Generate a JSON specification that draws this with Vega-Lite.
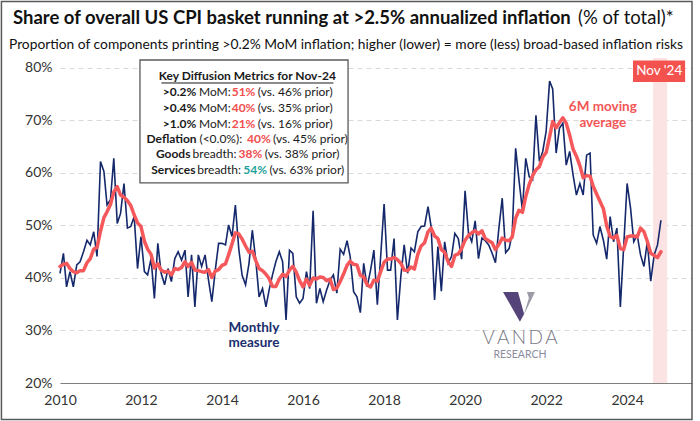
{
  "$schema": "https://vega.github.io/schema/vega-lite/v6.json",
  "description": "Share of overall US CPI basket running at >2.5% annualized inflation, monthly with 6M moving average",
  "width": 632,
  "height": 325,
  "autosize": {"type": "none"},
  "padding": {"left": 60, "top": 58, "right": 8, "bottom": 38},
  "background": "white",
  "config": {"view": {"stroke": null}, "font": "Lato"},
  "resolve": {"axis": {"x": "independent", "y": "independent"}},
  "datasets": {
    "cpi": [
      {"d": "2010-01-01", "m": 40.9, "ma": 42.2}, {"d": "2010-02-01", "m": 44.7, "ma": 42.6},
      {"d": "2010-03-01", "m": 38.3, "ma": 42.8}, {"d": "2010-04-01", "m": 41.2, "ma": 41.8},
      {"d": "2010-05-01", "m": 38.3, "ma": 41.2}, {"d": "2010-06-01", "m": 42.5, "ma": 41.0},
      {"d": "2010-07-01", "m": 43.1, "ma": 41.4}, {"d": "2010-08-01", "m": 45.0, "ma": 41.4},
      {"d": "2010-09-01", "m": 47.2, "ma": 42.9}, {"d": "2010-10-01", "m": 46.3, "ma": 43.7},
      {"d": "2010-11-01", "m": 48.8, "ma": 45.5}, {"d": "2010-12-01", "m": 44.1, "ma": 45.8},
      {"d": "2011-01-01", "m": 62.2, "ma": 48.9}, {"d": "2011-02-01", "m": 60.3, "ma": 51.5},
      {"d": "2011-03-01", "m": 53.9, "ma": 52.6}, {"d": "2011-04-01", "m": 54.9, "ma": 54.0},
      {"d": "2011-05-01", "m": 62.8, "ma": 56.4}, {"d": "2011-06-01", "m": 50.4, "ma": 57.4},
      {"d": "2011-07-01", "m": 52.3, "ma": 55.8}, {"d": "2011-08-01", "m": 58.0, "ma": 55.4},
      {"d": "2011-09-01", "m": 49.5, "ma": 54.7}, {"d": "2011-10-01", "m": 49.8, "ma": 53.8},
      {"d": "2011-11-01", "m": 51.7, "ma": 52.0}, {"d": "2011-12-01", "m": 41.8, "ma": 50.5},
      {"d": "2012-01-01", "m": 47.9, "ma": 49.8}, {"d": "2012-02-01", "m": 41.2, "ma": 47.0},
      {"d": "2012-03-01", "m": 40.6, "ma": 45.5}, {"d": "2012-04-01", "m": 43.7, "ma": 44.5},
      {"d": "2012-05-01", "m": 36.1, "ma": 41.9}, {"d": "2012-06-01", "m": 46.6, "ma": 42.7},
      {"d": "2012-07-01", "m": 40.9, "ma": 41.5}, {"d": "2012-08-01", "m": 38.7, "ma": 41.1},
      {"d": "2012-09-01", "m": 41.8, "ma": 41.3}, {"d": "2012-10-01", "m": 39.3, "ma": 40.6},
      {"d": "2012-11-01", "m": 43.7, "ma": 41.8}, {"d": "2012-12-01", "m": 45.0, "ma": 41.6},
      {"d": "2013-01-01", "m": 43.4, "ma": 42.0}, {"d": "2013-02-01", "m": 45.3, "ma": 43.1},
      {"d": "2013-03-01", "m": 36.4, "ma": 42.2}, {"d": "2013-04-01", "m": 44.4, "ma": 43.0},
      {"d": "2013-05-01", "m": 34.5, "ma": 41.5}, {"d": "2013-06-01", "m": 44.4, "ma": 41.4},
      {"d": "2013-07-01", "m": 42.2, "ma": 41.2}, {"d": "2013-08-01", "m": 44.4, "ma": 41.1},
      {"d": "2013-09-01", "m": 39.6, "ma": 41.6}, {"d": "2013-10-01", "m": 35.5, "ma": 40.1},
      {"d": "2013-11-01", "m": 41.5, "ma": 41.3}, {"d": "2013-12-01", "m": 46.6, "ma": 41.6},
      {"d": "2014-01-01", "m": 46.6, "ma": 42.4}, {"d": "2014-02-01", "m": 46.3, "ma": 42.7},
      {"d": "2014-03-01", "m": 50.1, "ma": 44.4}, {"d": "2014-04-01", "m": 47.9, "ma": 46.5},
      {"d": "2014-05-01", "m": 53.9, "ma": 48.6}, {"d": "2014-06-01", "m": 45.5, "ma": 48.4},
      {"d": "2014-07-01", "m": 40.5, "ma": 47.4}, {"d": "2014-08-01", "m": 38.7, "ma": 46.1},
      {"d": "2014-09-01", "m": 42.8, "ma": 44.9}, {"d": "2014-10-01", "m": 49.1, "ma": 45.1},
      {"d": "2014-11-01", "m": 43.4, "ma": 43.3}, {"d": "2014-12-01", "m": 36.4, "ma": 41.8},
      {"d": "2015-01-01", "m": 38.0, "ma": 41.4}, {"d": "2015-02-01", "m": 34.5, "ma": 40.7},
      {"d": "2015-03-01", "m": 37.7, "ma": 39.9}, {"d": "2015-04-01", "m": 40.6, "ma": 38.4},
      {"d": "2015-05-01", "m": 43.1, "ma": 38.4}, {"d": "2015-06-01", "m": 45.0, "ma": 39.8},
      {"d": "2015-07-01", "m": 43.1, "ma": 40.7}, {"d": "2015-08-01", "m": 32.0, "ma": 40.3},
      {"d": "2015-09-01", "m": 45.3, "ma": 41.5}, {"d": "2015-10-01", "m": 44.7, "ma": 42.2},
      {"d": "2015-11-01", "m": 36.4, "ma": 41.1}, {"d": "2015-12-01", "m": 35.2, "ma": 39.5},
      {"d": "2016-01-01", "m": 36.1, "ma": 38.3}, {"d": "2016-02-01", "m": 41.2, "ma": 39.8},
      {"d": "2016-03-01", "m": 38.0, "ma": 38.6}, {"d": "2016-04-01", "m": 52.8, "ma": 40.0},
      {"d": "2016-05-01", "m": 35.2, "ma": 39.8}, {"d": "2016-06-01", "m": 38.0, "ma": 40.2},
      {"d": "2016-07-01", "m": 35.5, "ma": 40.1}, {"d": "2016-08-01", "m": 37.7, "ma": 39.5},
      {"d": "2016-09-01", "m": 39.6, "ma": 39.8}, {"d": "2016-10-01", "m": 40.6, "ma": 37.8},
      {"d": "2016-11-01", "m": 37.1, "ma": 38.1}, {"d": "2016-12-01", "m": 45.5, "ma": 39.3},
      {"d": "2017-01-01", "m": 44.5, "ma": 40.8}, {"d": "2017-02-01", "m": 47.1, "ma": 42.4},
      {"d": "2017-03-01", "m": 44.1, "ma": 43.2}, {"d": "2017-04-01", "m": 37.4, "ma": 42.6},
      {"d": "2017-05-01", "m": 36.4, "ma": 42.5}, {"d": "2017-06-01", "m": 33.4, "ma": 40.5},
      {"d": "2017-07-01", "m": 42.8, "ma": 40.2}, {"d": "2017-08-01", "m": 38.3, "ma": 38.7},
      {"d": "2017-09-01", "m": 41.5, "ma": 38.3}, {"d": "2017-10-01", "m": 45.3, "ma": 39.6},
      {"d": "2017-11-01", "m": 34.9, "ma": 39.4}, {"d": "2017-12-01", "m": 44.1, "ma": 41.2},
      {"d": "2018-01-01", "m": 54.1, "ma": 43.0}, {"d": "2018-02-01", "m": 41.5, "ma": 43.6},
      {"d": "2018-03-01", "m": 41.5, "ma": 43.6}, {"d": "2018-04-01", "m": 47.5, "ma": 43.9},
      {"d": "2018-05-01", "m": 32.0, "ma": 43.5}, {"d": "2018-06-01", "m": 40.3, "ma": 42.8},
      {"d": "2018-07-01", "m": 46.3, "ma": 41.5}, {"d": "2018-08-01", "m": 40.9, "ma": 41.4},
      {"d": "2018-09-01", "m": 45.7, "ma": 42.1}, {"d": "2018-10-01", "m": 45.0, "ma": 41.7},
      {"d": "2018-11-01", "m": 48.8, "ma": 44.5}, {"d": "2018-12-01", "m": 49.8, "ma": 46.1},
      {"d": "2019-01-01", "m": 49.9, "ma": 46.7}, {"d": "2019-02-01", "m": 53.6, "ma": 48.8},
      {"d": "2019-03-01", "m": 49.8, "ma": 49.5}, {"d": "2019-04-01", "m": 35.8, "ma": 48.0},
      {"d": "2019-05-01", "m": 46.0, "ma": 47.5}, {"d": "2019-06-01", "m": 37.5, "ma": 45.4},
      {"d": "2019-07-01", "m": 46.9, "ma": 44.9}, {"d": "2019-08-01", "m": 42.8, "ma": 43.1},
      {"d": "2019-09-01", "m": 44.1, "ma": 42.2}, {"d": "2019-10-01", "m": 48.5, "ma": 44.3},
      {"d": "2019-11-01", "m": 47.5, "ma": 44.6}, {"d": "2019-12-01", "m": 43.6, "ma": 45.6},
      {"d": "2020-01-01", "m": 56.6, "ma": 47.2}, {"d": "2020-02-01", "m": 48.5, "ma": 48.1},
      {"d": "2020-03-01", "m": 46.9, "ma": 48.6}, {"d": "2020-04-01", "m": 50.9, "ma": 49.0},
      {"d": "2020-05-01", "m": 43.7, "ma": 48.4}, {"d": "2020-06-01", "m": 47.6, "ma": 49.0},
      {"d": "2020-07-01", "m": 47.1, "ma": 47.5}, {"d": "2020-08-01", "m": 46.3, "ma": 47.1},
      {"d": "2020-09-01", "m": 44.7, "ma": 46.7}, {"d": "2020-10-01", "m": 42.9, "ma": 45.4},
      {"d": "2020-11-01", "m": 49.5, "ma": 46.4}, {"d": "2020-12-01", "m": 55.2, "ma": 47.6},
      {"d": "2021-01-01", "m": 44.8, "ma": 47.2}, {"d": "2021-02-01", "m": 45.6, "ma": 47.1},
      {"d": "2021-03-01", "m": 48.5, "ma": 47.8}, {"d": "2021-04-01", "m": 64.7, "ma": 51.4},
      {"d": "2021-05-01", "m": 58.7, "ma": 52.9}, {"d": "2021-06-01", "m": 52.9, "ma": 52.5},
      {"d": "2021-07-01", "m": 62.8, "ma": 55.5}, {"d": "2021-08-01", "m": 59.3, "ma": 57.8},
      {"d": "2021-09-01", "m": 58.7, "ma": 59.5}, {"d": "2021-10-01", "m": 71.0, "ma": 60.6},
      {"d": "2021-11-01", "m": 62.2, "ma": 61.2}, {"d": "2021-12-01", "m": 64.1, "ma": 63.0},
      {"d": "2022-01-01", "m": 67.9, "ma": 63.9}, {"d": "2022-02-01", "m": 77.5, "ma": 66.9},
      {"d": "2022-03-01", "m": 76.0, "ma": 69.8}, {"d": "2022-04-01", "m": 63.8, "ma": 68.6},
      {"d": "2022-05-01", "m": 68.5, "ma": 69.6}, {"d": "2022-06-01", "m": 69.5, "ma": 70.5},
      {"d": "2022-07-01", "m": 61.5, "ma": 69.5}, {"d": "2022-08-01", "m": 64.1, "ma": 67.2},
      {"d": "2022-09-01", "m": 59.6, "ma": 64.5}, {"d": "2022-10-01", "m": 55.8, "ma": 63.2},
      {"d": "2022-11-01", "m": 58.0, "ma": 61.4}, {"d": "2022-12-01", "m": 55.8, "ma": 59.1},
      {"d": "2023-01-01", "m": 63.4, "ma": 59.5}, {"d": "2023-02-01", "m": 63.8, "ma": 59.4},
      {"d": "2023-03-01", "m": 48.2, "ma": 57.5}, {"d": "2023-04-01", "m": 46.6, "ma": 56.0},
      {"d": "2023-05-01", "m": 49.8, "ma": 54.6}, {"d": "2023-06-01", "m": 47.2, "ma": 53.2},
      {"d": "2023-07-01", "m": 43.6, "ma": 49.9}, {"d": "2023-08-01", "m": 51.7, "ma": 47.9},
      {"d": "2023-09-01", "m": 46.9, "ma": 47.6}, {"d": "2023-10-01", "m": 49.5, "ma": 48.1},
      {"d": "2023-11-01", "m": 34.5, "ma": 45.6}, {"d": "2023-12-01", "m": 46.0, "ma": 45.4},
      {"d": "2024-01-01", "m": 58.0, "ma": 47.8}, {"d": "2024-02-01", "m": 53.3, "ma": 48.0},
      {"d": "2024-03-01", "m": 46.9, "ma": 48.0}, {"d": "2024-04-01", "m": 48.2, "ma": 47.8},
      {"d": "2024-05-01", "m": 44.4, "ma": 49.5}, {"d": "2024-06-01", "m": 42.2, "ma": 48.8},
      {"d": "2024-07-01", "m": 46.9, "ma": 47.0}, {"d": "2024-08-01", "m": 39.4, "ma": 44.7},
      {"d": "2024-09-01", "m": 44.4, "ma": 44.3}, {"d": "2024-10-01", "m": 46.3, "ma": 43.9},
      {"d": "2024-11-01", "m": 51.0, "ma": 45.0}
    ]
  },
  "layer": [
    {
      "data": {"values": [{"d": "2024-08-22", "d2": "2024-12-27"}]},
      "mark": {"type": "rect", "color": "#fce3e3"},
      "encoding": {
        "x": {"field": "d", "type": "temporal", "axis": null},
        "x2": {"field": "d2"}
      }
    },
    {
      "data": {"name": "cpi"},
      "mark": {"type": "line", "color": "#14286b", "strokeWidth": 1.6},
      "encoding": {
        "x": {
          "field": "d",
          "type": "temporal",
          "title": null,
          "scale": {"domain": ["2010-01-01", "2025-08-08"], "nice": false},
          "axis": {
            "tickCount": {"interval": "year", "step": 2},
            "format": "%Y",
            "grid": false,
            "ticks": false,
            "domainColor": "#7f7f7f",
            "labelFont": "Lato",
            "labelFontSize": 14,
            "labelColor": "#333333",
            "labelPadding": 10,
            "labelFlush": false,
            "labelOverlap": false
          }
        },
        "y": {
          "field": "m",
          "type": "quantitative",
          "title": null,
          "scale": {"domain": [20, 81.9], "nice": false, "zero": false},
          "axis": {
            "values": [20, 30, 40, 50, 60, 70, 80],
            "labelExpr": "datum.value + '%'",
            "grid": true,
            "gridDash": [5, 4],
            "gridColor": "#d9d9d9",
            "domain": false,
            "ticks": false,
            "labelFont": "Lato",
            "labelFontSize": 14,
            "labelColor": "#333333",
            "labelPadding": 8
          }
        }
      }
    },
    {
      "data": {"name": "cpi"},
      "mark": {"type": "line", "color": "#f4585b", "strokeWidth": 3.5, "strokeJoin": "round", "strokeCap": "round"},
      "encoding": {
        "x": {"field": "d", "type": "temporal", "axis": null},
        "y": {"field": "ma", "type": "quantitative", "axis": null}
      }
    },
    {
      "data": {"values": [{"d": "2011-12-23", "d2": "2017-02-10", "v": 81.52, "v2": 58.1}]},
      "mark": {"type": "rect", "fill": "white", "stroke": "#595959", "strokeWidth": 1.3},
      "encoding": {
        "x": {"field": "d", "type": "temporal", "axis": null},
        "x2": {"field": "d2"},
        "y": {"field": "v", "type": "quantitative", "axis": null},
        "y2": {"field": "v2"}
      }
    },
    {
      "data": {"values": [{"d": "2012-07-03", "d2": "2016-10-01", "v": 77.14}]},
      "mark": {"type": "rule", "color": "#1a1a1a", "strokeWidth": 1},
      "encoding": {
        "x": {"field": "d", "type": "temporal", "axis": null},
        "x2": {"field": "d2"},
        "y": {"field": "v", "type": "quantitative", "axis": null}
      }
    },
    {
      "data": {"values": [{"d": "2014-08-17", "v": 78.53, "t": "Key Diffusion Metrics for Nov-24"}]},
      "mark": {"type": "text", "fontSize": 12, "fontWeight": "bold", "align": "center", "baseline": "middle", "color": "#1a1a1a"},
      "encoding": {
        "x": {"field": "d", "type": "temporal", "axis": null},
        "y": {"field": "v", "type": "quantitative", "axis": null},
        "text": {"field": "t"}
      }
    },
    {
      "data": {"values": [
        {"d": "2012-07-15", "v": 75.49, "t": ">0.2%"},
        {"d": "2012-07-15", "v": 72.44, "t": ">0.4%"},
        {"d": "2012-07-15", "v": 69.33, "t": ">1.0%"},
        {"d": "2012-02-20", "v": 66.48, "t": "Deflation"},
        {"d": "2012-05-15", "v": 63.56, "t": "Goods"},
        {"d": "2012-04-03", "v": 60.57, "t": "Services"}
      ]},
      "mark": {"type": "text", "fontSize": 12, "fontWeight": "bold", "align": "left", "baseline": "middle", "color": "#1a1a1a"},
      "encoding": {
        "x": {"field": "d", "type": "temporal", "axis": null},
        "y": {"field": "v", "type": "quantitative", "axis": null},
        "text": {"field": "t"}
      }
    },
    {
      "data": {"values": [
        {"d": "2013-06-07", "v": 75.49, "t": "MoM:"},
        {"d": "2013-06-07", "v": 72.44, "t": "MoM:"},
        {"d": "2013-06-07", "v": 69.33, "t": "MoM:"},
        {"d": "2013-06-11", "v": 66.48, "t": "(<0.0%):"},
        {"d": "2013-04-10", "v": 63.56, "t": "breadth:"},
        {"d": "2013-05-22", "v": 60.57, "t": "breadth:"}
      ]},
      "mark": {"type": "text", "fontSize": 12, "align": "left", "baseline": "middle", "color": "#1a1a1a"},
      "encoding": {
        "x": {"field": "d", "type": "temporal", "axis": null},
        "y": {"field": "v", "type": "quantitative", "axis": null},
        "text": {"field": "t"}
      }
    },
    {
      "data": {"values": [
        {"d": "2014-03-29", "v": 75.49, "t": "51%"},
        {"d": "2014-03-29", "v": 72.44, "t": "40%"},
        {"d": "2014-03-29", "v": 69.33, "t": "21%"},
        {"d": "2014-08-14", "v": 66.48, "t": "40%"},
        {"d": "2014-05-30", "v": 63.56, "t": "38%"}
      ]},
      "mark": {"type": "text", "fontSize": 12, "fontWeight": "bold", "align": "left", "baseline": "middle", "color": "#f04e4e"},
      "encoding": {
        "x": {"field": "d", "type": "temporal", "axis": null},
        "y": {"field": "v", "type": "quantitative", "axis": null},
        "text": {"field": "t"}
      }
    },
    {
      "data": {"values": [{"d": "2014-07-11", "v": 60.57, "t": "54%"}]},
      "mark": {"type": "text", "fontSize": 12, "fontWeight": "bold", "align": "left", "baseline": "middle", "color": "#1fa39c"},
      "encoding": {
        "x": {"field": "d", "type": "temporal", "axis": null},
        "y": {"field": "v", "type": "quantitative", "axis": null},
        "text": {"field": "t"}
      }
    },
    {
      "data": {"values": [
        {"d": "2014-11-20", "v": 75.49, "t": "(vs. 46% prior)"},
        {"d": "2014-11-20", "v": 72.44, "t": "(vs. 35% prior)"},
        {"d": "2014-11-20", "v": 69.33, "t": "(vs. 16% prior)"},
        {"d": "2015-04-05", "v": 66.48, "t": "(vs. 45% prior)"},
        {"d": "2015-01-21", "v": 63.56, "t": "(vs. 38% prior)"},
        {"d": "2015-03-04", "v": 60.57, "t": "(vs. 63% prior)"}
      ]},
      "mark": {"type": "text", "fontSize": 12, "align": "left", "baseline": "middle", "color": "#1a1a1a"},
      "encoding": {
        "x": {"field": "d", "type": "temporal", "axis": null},
        "y": {"field": "v", "type": "quantitative", "axis": null},
        "text": {"field": "t"}
      }
    },
    {
      "data": {"values": [{"d": "2024-02-23", "d2": "2025-06-07", "v": 81.43, "v2": 77.33}]},
      "mark": {"type": "rect", "fill": "#f3524f"},
      "encoding": {
        "x": {"field": "d", "type": "temporal", "axis": null},
        "x2": {"field": "d2"},
        "y": {"field": "v", "type": "quantitative", "axis": null},
        "y2": {"field": "v2"}
      }
    },
    {
      "data": {"values": [{"d": "2024-10-16", "v": 79.33, "t": "Nov '24"}]},
      "mark": {"type": "text", "fontSize": 13.5, "align": "center", "baseline": "middle", "color": "white"},
      "encoding": {
        "x": {"field": "d", "type": "temporal", "axis": null},
        "y": {"field": "v", "type": "quantitative", "axis": null},
        "text": {"field": "t"}
      }
    },
    {
      "data": {"values": [
        {"d": "2023-05-27", "v": 72.63, "t": "6M moving"},
        {"d": "2023-05-27", "v": 69.58, "t": "average"}
      ]},
      "mark": {"type": "text", "fontSize": 13.5, "fontWeight": "bold", "align": "center", "baseline": "middle", "color": "#f25656"},
      "encoding": {
        "x": {"field": "d", "type": "temporal", "axis": null},
        "y": {"field": "v", "type": "quantitative", "axis": null},
        "text": {"field": "t"}
      }
    },
    {
      "data": {"values": [
        {"d": "2014-10-15", "v": 30.53, "t": "Monthly"},
        {"d": "2014-10-15", "v": 27.56, "t": "measure"}
      ]},
      "mark": {"type": "text", "fontSize": 13.5, "fontWeight": "bold", "align": "center", "baseline": "middle", "color": "#1a2f6e"},
      "encoding": {
        "x": {"field": "d", "type": "temporal", "axis": null},
        "y": {"field": "v", "type": "quantitative", "axis": null},
        "text": {"field": "t"}
      }
    },
    {
      "data": {"values": [{"d": "2021-05-01", "v": 34.53}]},
      "mark": {"type": "point", "filled": true, "opacity": 1, "size": 1024, "color": "#55447a", "shape": "M-1,-0.92L-0.06,-0.92L0.32,0.45L0.06,0.94Z"},
      "encoding": {
        "x": {"field": "d", "type": "temporal", "axis": null},
        "y": {"field": "v", "type": "quantitative", "axis": null}
      }
    },
    {
      "data": {"values": [{"d": "2021-05-01", "v": 34.53}]},
      "mark": {"type": "point", "filled": true, "opacity": 1, "size": 1024, "color": "#9b9ba6", "shape": "M0.5,-0.92L1,-0.92L0.1,0.94L0.32,0.45L0.62,-0.55Z"},
      "encoding": {
        "x": {"field": "d", "type": "temporal", "axis": null},
        "y": {"field": "v", "type": "quantitative", "axis": null}
      }
    },
    {
      "data": {"values": [{"d": "2021-05-10", "v": 28.48, "t": "V\u2009A\u2009N\u2009D\u2009A"}]},
      "mark": {"type": "text", "fontSize": 19, "fontWeight": 300, "align": "center", "baseline": "middle", "color": "#7a7a85"},
      "encoding": {
        "x": {"field": "d", "type": "temporal", "axis": null},
        "y": {"field": "v", "type": "quantitative", "axis": null},
        "text": {"field": "t"}
      }
    },
    {
      "data": {"values": [{"d": "2021-05-10", "v": 25.33, "t": "RESEARCH"}]},
      "mark": {"type": "text", "fontSize": 10.5, "align": "center", "baseline": "middle", "color": "#8c8ca0"},
      "encoding": {
        "x": {"field": "d", "type": "temporal", "axis": null},
        "y": {"field": "v", "type": "quantitative", "axis": null},
        "text": {"field": "t"}
      }
    },
    {
      "data": {"values": [{"d": "2008-11-03", "v": 89.52, "t": "Share of overall US CPI basket running at >2.5% annualized inflation"}]},
      "mark": {"type": "text", "fontSize": 18.5, "fontWeight": "bold", "align": "left", "baseline": "middle", "color": "#111111"},
      "encoding": {
        "x": {"field": "d", "type": "temporal", "axis": null},
        "y": {"field": "v", "type": "quantitative", "axis": null},
        "text": {"field": "t"}
      }
    },
    {
      "data": {"values": [{"d": "2022-10-15", "v": 89.52, "t": "(% of total)*"}]},
      "mark": {"type": "text", "fontSize": 18.5, "align": "left", "baseline": "middle", "color": "#111111"},
      "encoding": {
        "x": {"field": "d", "type": "temporal", "axis": null},
        "y": {"field": "v", "type": "quantitative", "axis": null},
        "text": {"field": "t"}
      }
    },
    {
      "data": {"values": [{"d": "2008-09-28", "v": 84.38, "t": "Proportion of components printing >0.2% MoM inflation; higher (lower) = more (less) broad-based inflation risks"}]},
      "mark": {"type": "text", "fontSize": 13.8, "align": "left", "baseline": "middle", "color": "#111111"},
      "encoding": {
        "x": {"field": "d", "type": "temporal", "axis": null},
        "y": {"field": "v", "type": "quantitative", "axis": null},
        "text": {"field": "t"}
      }
    },
    {
      "data": {"values": [{"d": "2008-07-22", "d2": "2025-08-08", "v": 92.67, "v2": 13.05}]},
      "mark": {"type": "rect", "fill": null, "fillOpacity": 0, "stroke": "#595959", "strokeWidth": 1.5},
      "encoding": {
        "x": {"field": "d", "type": "temporal", "axis": null},
        "x2": {"field": "d2"},
        "y": {"field": "v", "type": "quantitative", "axis": null},
        "y2": {"field": "v2"}
      }
    }
  ]
}
